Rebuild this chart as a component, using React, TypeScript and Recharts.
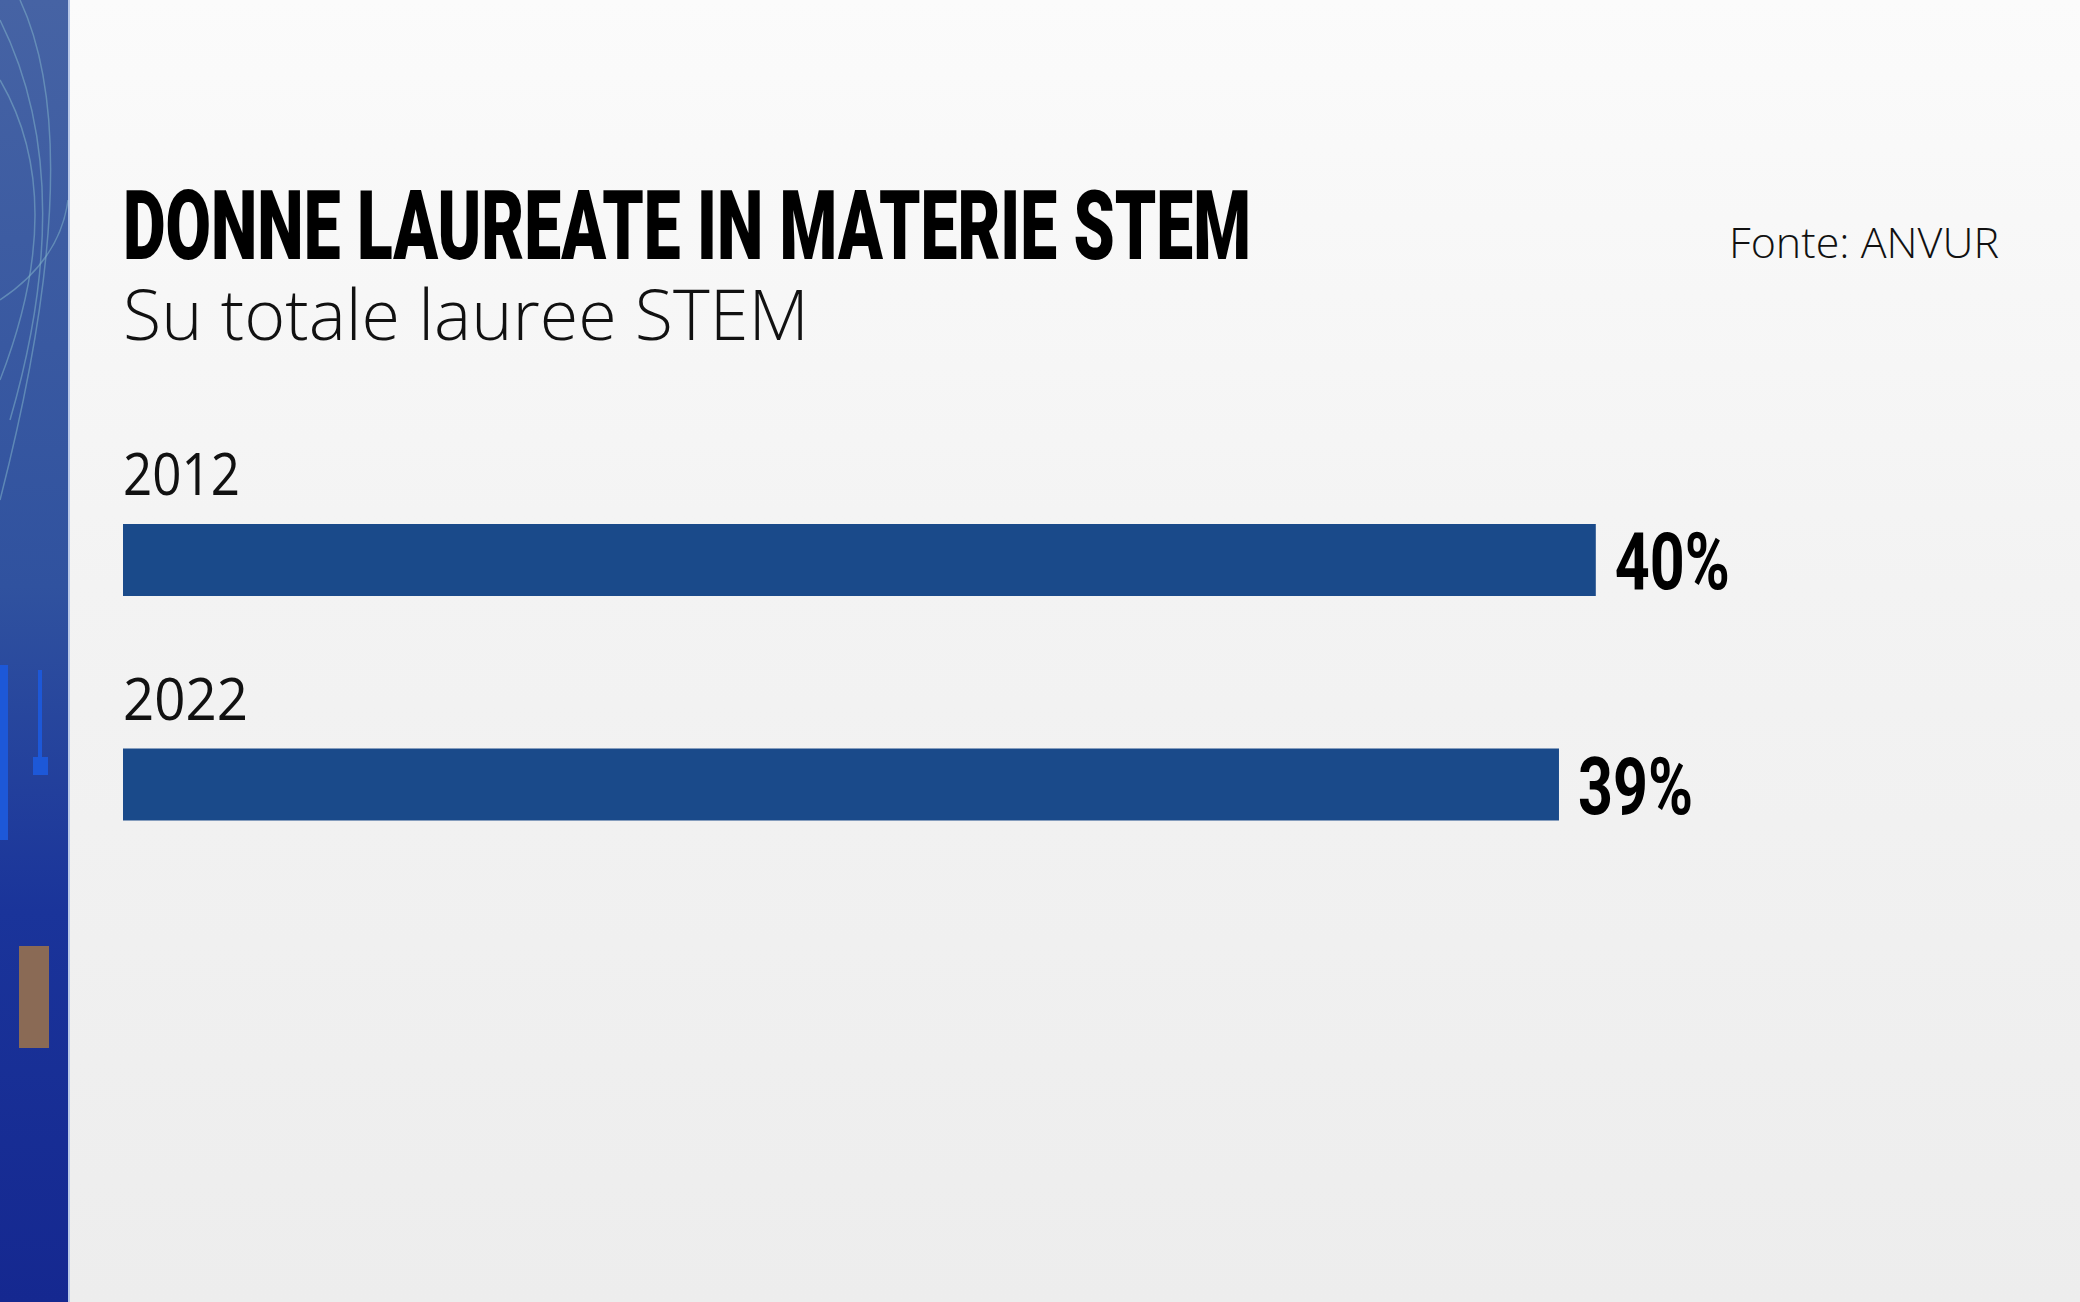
import React, { useLayoutEffect, useRef, useState } from 'react';
import { BarChart, Bar, XAxis, YAxis, LabelList } from 'recharts';

const years = ['2012', '2022'];
const shares = [40, 39];
const titleText = 'DONNE LAUREATE IN MATERIE STEM';
const subtitleText = 'Su totale lauree STEM';
const sourceText = 'Fonte: ANVUR';

const data = years.map((y, i) => ({ year: y, value: shares[i] }));

const BAR_COLOR = '#1a4a8a';

const FitText = (props: any) => {
  const { x, y, width, anchor = 'start', fill, fontFamily, fontWeight, fontSize, children } = props;
  const ref = useRef<SVGTextElement>(null);
  const [k, setK] = useState(1);
  useLayoutEffect(() => {
    const measure = () => {
      if (ref.current) {
        const w = ref.current.getComputedTextLength();
        if (w > 0) setK(width / w);
      }
    };
    measure();
    if ((document as any).fonts && (document as any).fonts.ready) {
      (document as any).fonts.ready.then(measure);
    }
  }, [width, children]);
  return (
    <text
      ref={ref}
      x={0}
      y={0}
      transform={`translate(${x},${y}) scale(${k},1)`}
      textAnchor={anchor}
      fill={fill}
      fontFamily={fontFamily}
      fontWeight={fontWeight}
      fontSize={fontSize}
    >
      {children}
    </text>
  );
};

const YearLabel = (props: any) => {
  const { x, y, value } = props;
  return (
    <FitText x={x} y={y - 29} width={value === '2012' ? 117 : 125} fill="#111" fontFamily="'Open Sans', sans-serif" fontWeight={400} fontSize={58}>
      {value}
    </FitText>
  );
};

const ValueLabel = (props: any) => {
  const { x, y, width, height, value } = props;
  return (
    <FitText x={x + width + 19} y={y + height / 2 + 29} width={115} fill="#000" fontFamily="Roboto, sans-serif" fontWeight={700} fontSize={79}>
      {value + '%'}
    </FitText>
  );
};

export default function App() {
  return (
    <div style={{ position: 'absolute', left: 0, top: 0, width: 2080, height: 1302, overflow: 'hidden', background: 'linear-gradient(180deg, #fbfbfb 0%, #f3f3f3 45%, #ededed 100%)' }}>
      <div style={{ position: 'absolute', left: 0, top: 0, width: 68, height: 1302, background: 'linear-gradient(180deg, #4663a4 0%, #30529f 45%, #1a349a 70%, #152890 100%)' }}>
        <svg width={68} height={1302} style={{ position: 'absolute', left: 0, top: 0 }}>
          <g fill="none" stroke="#7fb0c8" strokeOpacity={0.55} strokeWidth={1.5}>
            <path d="M 0 20 Q 80 180 10 420" />
            <path d="M 0 80 Q 70 200 0 380" />
            <path d="M 20 0 Q 90 150 0 500" />
            <path d="M 0 300 Q 60 260 68 200" />
          </g>
          <rect x={0} y={665} width={8} height={175} fill="#1d58d8" />
          <rect x={38} y={670} width={4} height={90} fill="#1d58d8" />
          <rect x={33} y={757} width={15} height={18} fill="#1d58d8" />
          <rect x={19} y={946} width={30} height={102} fill="#8a6a55" />
        </svg>
      </div>
      <div style={{ position: 'absolute', left: 68, top: 0, width: 2, height: 1302, background: '#b8c8e8' }} />
      <svg width={2080} height={1302} style={{ position: 'absolute', left: 0, top: 0 }}>
        <FitText x={123} y={259} width={1128} fill="#000" fontFamily="Roboto, sans-serif" fontWeight={900} fontSize={97}>
          {titleText}
        </FitText>
        <FitText x={123} y={340} width={686} fill="#111" fontFamily="'Open Sans', sans-serif" fontWeight={300} fontSize={70}>
          {subtitleText}
        </FitText>
        <FitText x={1999} y={258} width={270} anchor="end" fill="#111" fontFamily="'Open Sans', sans-serif" fontWeight={300} fontSize={42}>
          {sourceText}
        </FitText>
      </svg>
      <div style={{ position: 'absolute', left: 0, top: 0 }}>
        <BarChart width={2080} height={1302} data={data} layout="vertical" margin={{ top: 448, right: 116, bottom: 405, left: 123 }}>
          <XAxis type="number" domain={[0, 50]} hide />
          <YAxis type="category" dataKey="year" hide />
          <Bar dataKey="value" fill={BAR_COLOR} barSize={72} isAnimationActive={false}>
            <LabelList dataKey="year" content={<YearLabel />} />
            <LabelList dataKey="value" content={<ValueLabel />} />
          </Bar>
        </BarChart>
      </div>
    </div>
  );
}
